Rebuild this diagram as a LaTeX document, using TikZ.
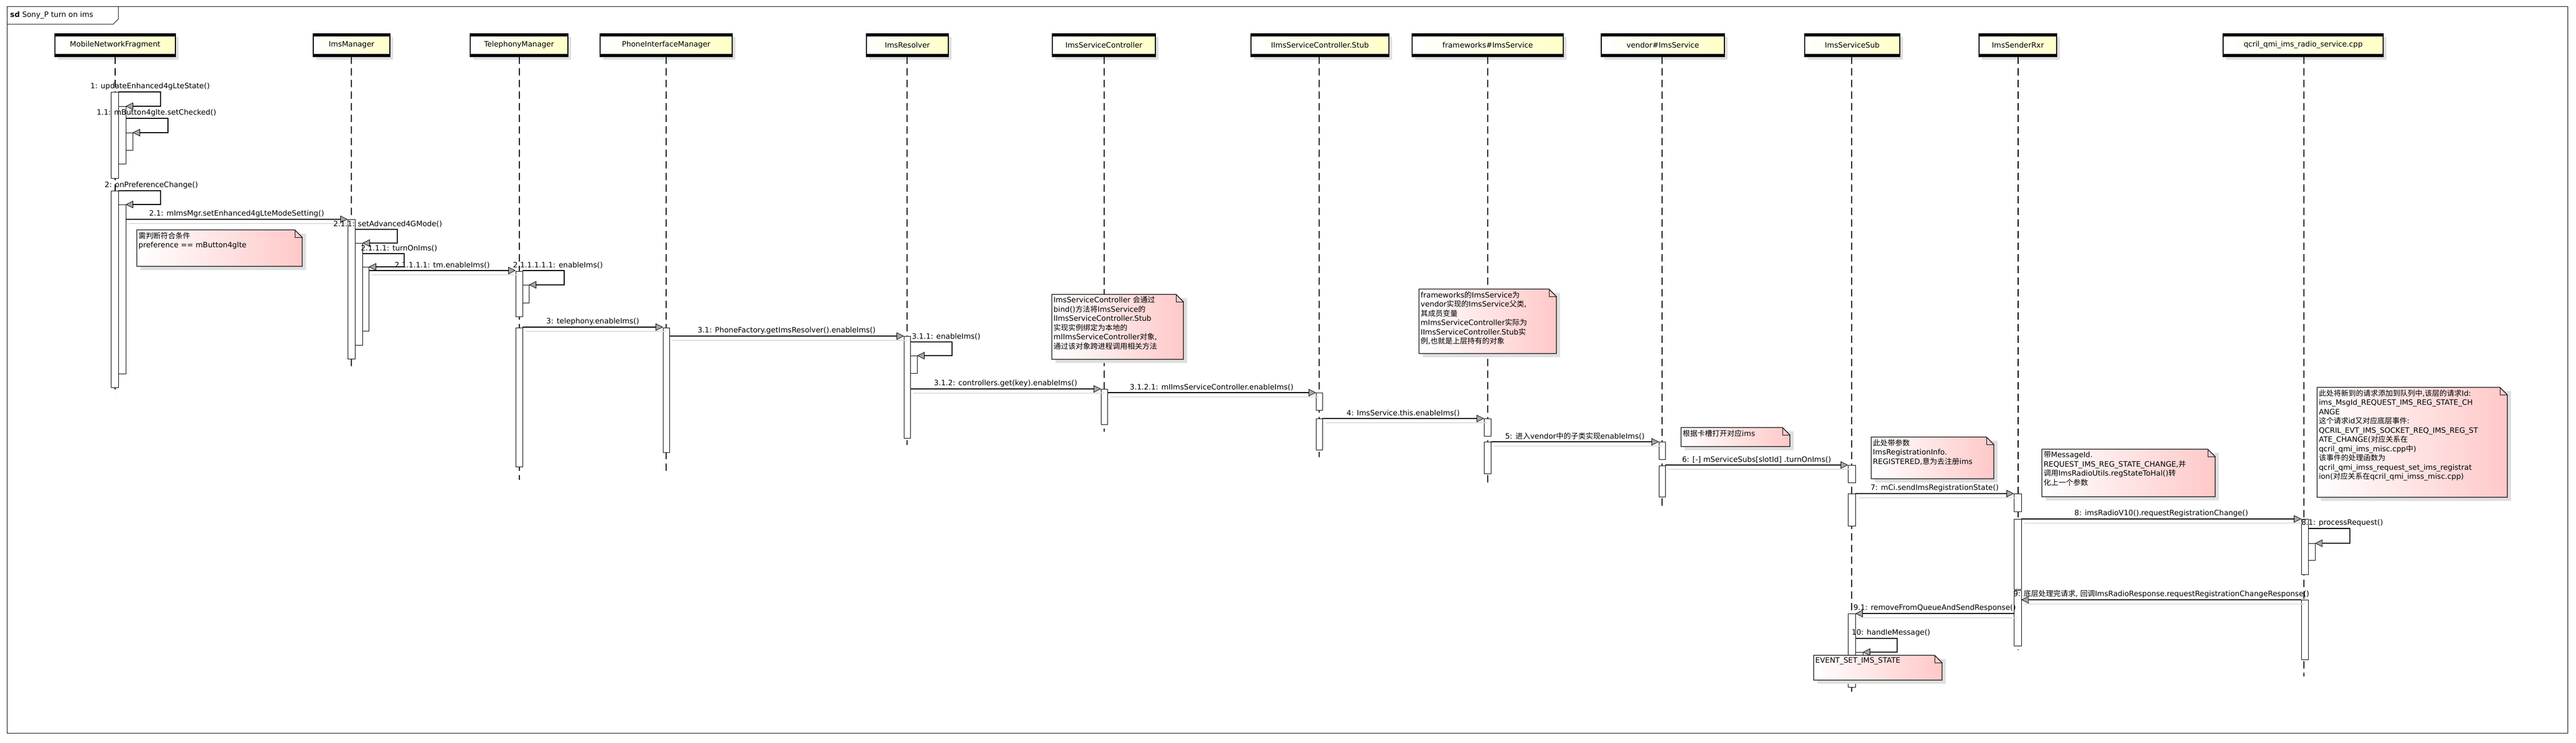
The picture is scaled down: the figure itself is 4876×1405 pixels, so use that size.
\documentclass[tikz,border=0pt]{standalone}
\usepackage{fontspec}
\setmainfont{DejaVu Sans}
\newfontfamily\cjkf{Noto Sans CJK SC}
\newcommand\zh[1]{{\cjkf #1}}
\usetikzlibrary{arrows.meta}
\definecolor{hdry}{RGB}{255,255,200}
\definecolor{notep}{RGB}{255,200,200}
\tikzset{x=1pt,y=-1pt,
  lbl/.style={font=\fontsize{14}{17}\selectfont,inner sep=1pt},
  msg/.style={line width=1.2pt,-{Triangle[length=14pt,width=14pt,fill=gray!70,line width=0.8pt]}},
  life/.style={line width=1.2pt,dash pattern=on 14pt off 8pt},
  actor/.style={font=\fontsize{14}{17}\selectfont,inner sep=0pt},
  notetxt/.style={font=\fontsize{14}{17.5}\selectfont,align=left,inner sep=2pt,anchor=north west}}
\newcommand\actbox[5]{% name x1 x2 label xc
  \fill[gray!25] (#2+6,70) rectangle (#3+6,113);
  \shade[left color=white,right color=hdry] (#2,64) rectangle (#3,107);
  \draw[line width=1.2pt] (#2,64) rectangle (#3,107);
  \fill (#2,64) rectangle (#3,69); \fill (#2,102) rectangle (#3,107);
  \node[actor] (#1) at ({(#2+#3)/2},85) {#4};}
\newcommand\lifeline[3]{\coordinate (#1t) at (#2,107); \coordinate (#1e) at (#2,#3);
  \draw[life] (#1t) -- (#1e);}
\newcommand\act[4]{\draw[fill=white,line width=1pt] (#1,#3) rectangle (#2,#4);}
\newcommand\msgR[5]{\coordinate (#1a) at (#2,#4); \coordinate (#1b) at (#3,#4);
  \draw[gray!25,line width=1.5pt] (#2+6,#4+8) -- (#3+6,#4+8);
  \draw[msg] (#1a) -- (#1b) node[lbl,midway,above=2pt] (#1l) {#5};}
\newcommand\selfmsg[7]{% name x0 xr xback ytop ybot labelx / label
  \coordinate (#1a) at (#2,#5); \coordinate (#1r) at (#3,#5); \coordinate (#1s) at (#3,#6); \coordinate (#1b) at (#4,#6);
  \draw[msg] (#1a) -- (#1r) -- (#1s) -- (#1b);
  \node[lbl,anchor=south west] (#1l) at (#7,#5-2) {\selflabel};}
\newcommand\note[6]{% name x1 y1 x2 y2 text
  \fill[gray!25] (#2+7,#3+7) rectangle (#4+7,#5+7);
  \shade[left color=white,right color=notep] (#2,#3) -- (#4-14,#3) -- (#4,#3+14) -- (#4,#5) -- (#2,#5) -- cycle;
  \draw[line width=1.2pt] (#2,#3) -- (#4-14,#3) -- (#4,#3+14) -- (#4,#5) -- (#2,#5) -- cycle;
  \draw[line width=1pt] (#4-14,#3) -- (#4-14,#3+14) -- (#4,#3+14);
  \node[notetxt] (#1) at (#2+1,#3+2) {#6};}
\begin{document}
\begin{tikzpicture}
\useasboundingbox (0,0) rectangle (4876,1405);
\fill[white] (0,0) rectangle (4876,1405);
% frame
\draw[line width=1pt] (13,13) rectangle (4860,1387);
\draw[line width=1pt] (13,46) -- (214,46) -- (224,36) -- (224,13);
\node[lbl,anchor=west] (title) at (18,29) {\textbf{sd} Sony\_P turn on ims};
% actors
\actbox{mnf}{104}{332}{MobileNetworkFragment}{}
\actbox{im}{593}{738}{ImsManager}{}
\actbox{tm}{890}{1075}{TelephonyManager}{}
\actbox{pim}{1136}{1386}{PhoneInterfaceManager}{}
\actbox{ir}{1640}{1795}{ImsResolver}{}
\actbox{isc}{1992}{2187}{ImsServiceController}{}
\actbox{stub}{2368}{2629}{IImsServiceController.Stub}{}
\actbox{fw}{2673}{2959}{frameworks\#ImsService}{}
\actbox{ven}{3031}{3264}{vendor\#ImsService}{}
\actbox{sub}{3416}{3596}{ImsServiceSub}{}
\actbox{rxr}{3746}{3893}{ImsSenderRxr}{}
\actbox{qc}{4208}{4511}{qcril\_qmi\_ims\_radio\_service.cpp}{}
% lifelines
\lifeline{Lmnf}{218}{745}
\lifeline{Lim}{665}{697}
\lifeline{Ltm}{983}{908}
\lifeline{Lpim}{1261}{893}
\lifeline{Lir}{1717}{842}
\lifeline{Lisc}{2090}{817}
\lifeline{Lstub}{2497}{865}
\lifeline{Lfw}{2816}{913}
\lifeline{Lven}{3146}{960}
\lifeline{Lsub}{3505}{1310}
\lifeline{Lrxr}{3820}{1230}
\lifeline{Lqc}{4361}{1280}
% activations
\act{210}{224}{174}{337}\act{224}{238}{201}{310}\act{238}{251}{251}{284}
\act{210}{224}{361}{733}\act{224}{238}{387}{707}
\act{658}{672}{415}{679}\act{672}{686}{460}{653}\act{686}{698}{505}{626}
\act{976}{989}{513}{599}\act{989}{1001}{539}{573}
\act{976}{989}{620}{883}
\act{1255}{1267}{620}{856}
\act{1711}{1723}{636}{829}\act{1723}{1736}{673}{706}
\act{2084}{2096}{736}{803}
\act{2491}{2503}{743}{776}\act{2491}{2503}{792}{851}
\act{2809}{2822}{792}{825}\act{2809}{2822}{836}{896}
\act{3140}{3152}{836}{869}\act{3140}{3152}{881}{940}
\act{3498}{3512}{880}{913}\act{3498}{3512}{934}{995}
\act{3498}{3512}{1161}{1300}\act{3512}{3526}{1234}{1270}
\act{3812}{3826}{934}{968}\act{3812}{3826}{982}{1115}\act{3812}{3826}{1117}{1222}
\act{4356}{4369}{982}{1087}\act{4369}{4382}{1028}{1060}
\act{4356}{4369}{1135}{1248}
% messages
\def\selflabel{1: updateEnhanced4gLteState()}\selfmsg{m1}{224}{304}{238}{174}{201}{170}
\def\selflabel{1.1: mButton4glte.setChecked()}\selfmsg{m11}{238}{318}{251}{224}{251}{182}
\def\selflabel{2: onPreferenceChange()}\selfmsg{m2}{224}{304}{238}{361}{387}{197}
\msgR{m21}{238}{658}{415}{2.1: mImsMgr.setEnhanced4gLteModeSetting()}
\def\selflabel{2.1.1: setAdvanced4GMode()}\selfmsg{m211}{672}{752}{686}{434}{460}{630}
\def\selflabel{2.1.1.1: turnOnIms()}\selfmsg{m2111}{686}{765}{698}{480}{505}{682}
\msgR{m21111}{698}{976}{512}{2.1.1.1.1: tm.enableIms()}
\def\selflabel{2.1.1.1.1.1: enableIms()}\selfmsg{m211111}{989}{1068}{1001}{512}{539}{970}
\msgR{m3}{989}{1255}{619}{3: telephony.enableIms()}
\msgR{m31}{1267}{1711}{636}{3.1: PhoneFactory.getImsResolver().enableIms()}
\def\selflabel{3.1.1: enableIms()}\selfmsg{m311}{1723}{1802}{1736}{647}{673}{1725}
\msgR{m312}{1723}{2084}{736}{3.1.2: controllers.get(key).enableIms()}
\msgR{m3121}{2096}{2491}{743}{3.1.2.1: mIImsServiceController.enableIms()}
\msgR{m4}{2503}{2809}{792}{4: ImsService.this.enableIms()}
\msgR{m5}{2822}{3140}{836}{5: \zh{进入}vendor\zh{中的子类实现}enableIms()}
\msgR{m6}{3152}{3498}{880}{6: [-] mServiceSubs[slotId] .turnOnIms()}
\msgR{m7}{3512}{3812}{934}{7: mCi.sendImsRegistrationState()}
\msgR{m8}{3826}{4356}{982}{8: imsRadioV10().requestRegistrationChange()}
\def\selflabel{8.1: processRequest()}\selfmsg{m81}{4369}{4448}{4382}{1000}{1028}{4355}
\msgR{m9}{4356}{3826}{1135}{9: \zh{底层处理完请求}, \zh{回调}ImsRadioResponse.requestRegistrationChangeResponse()}
\msgR{m91}{3812}{3512}{1161}{9.1: removeFromQueueAndSendResponse()}
\def\selflabel{10: handleMessage()}\selfmsg{m10}{3512}{3591}{3526}{1208}{1234}{3504}
% notes
\note{n1}{259}{435}{572}{504}{\zh{需判断符合条件}\\preference == mButton4glte}
\note{n2}{1991}{557}{2240}{680}{ImsServiceController \zh{会通过}\\bind()\zh{方法将}ImsService\zh{的}\\IImsServiceController.Stub\\\zh{实现实例绑定为本地的}\\mIImsServiceController\zh{对象},\\\zh{通过该对象跨进程调用相关方法}}
\note{n3}{2686}{547}{2946}{669}{frameworks\zh{的}ImsService\zh{为}\\vendor\zh{实现的}ImsService\zh{父类},\\\zh{其成员变量}\\mImsServiceController\zh{实际为}\\IImsServiceController.Stub\zh{实}\\\zh{例},\zh{也就是上层持有的对象}}
\note{n4}{3182}{809}{3388}{845}{\zh{根据卡槽打开对应}ims}
\note{n5}{3542}{827}{3774}{906}{\zh{此处带参数}\\ImsRegistrationInfo.\\REGISTERED,\zh{意为去注册}ims}
\note{n6}{3865}{850}{4193}{940}{\zh{带}MessageId.\\REQUEST\_IMS\_REG\_STATE\_CHANGE,\zh{并}\\\zh{调用}ImsRadioUtils.regStateToHal()\zh{转}\\\zh{化上一个参数}}
\note{n7}{4386}{733}{4746}{941}{\zh{此处将新到的请求添加到队列中},\zh{该层的请求}Id:\\ims\_MsgId\_REQUEST\_IMS\_REG\_STATE\_CH\\ANGE\\\zh{这个请求}id\zh{又对应底层事件}:\\QCRIL\_EVT\_IMS\_SOCKET\_REQ\_IMS\_REG\_ST\\ATE\_CHANGE(\zh{对应关系在}\\qcril\_qmi\_ims\_misc.cpp\zh{中})\\\zh{该事件的处理函数为}\\qcril\_qmi\_imss\_request\_set\_ims\_registrat\\ion(\zh{对应关系在}qcril\_qmi\_imss\_misc.cpp)}
\note{n8}{3433}{1240}{3676}{1287}{EVENT\_SET\_IMS\_STATE}
\end{tikzpicture}
\end{document}
